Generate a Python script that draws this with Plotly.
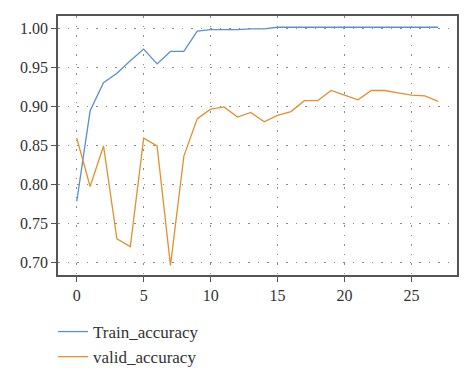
import plotly.graph_objects as go

epochs = list(range(28))
train_accuracy = [0.778, 0.894, 0.930, 0.942, 0.958, 0.973, 0.954, 0.970, 0.970, 0.996,
                  0.998, 0.998, 0.998, 0.999, 0.999, 1.001, 1.001, 1.001, 1.001, 1.001,
                  1.001, 1.001, 1.001, 1.001, 1.001, 1.001, 1.001, 1.001]
valid_accuracy = [0.859, 0.797, 0.849, 0.730, 0.720, 0.859, 0.849, 0.696, 0.836, 0.884,
                  0.896, 0.899, 0.886, 0.892, 0.880, 0.888, 0.893, 0.907, 0.907, 0.920,
                  0.914, 0.908, 0.920, 0.920, 0.917, 0.914, 0.913, 0.906]
x_ticks = [0, 5, 10, 15, 20, 25]
y_ticks = [0.70, 0.75, 0.80, 0.85, 0.90, 0.95, 1.00]

fig = go.Figure()
fig.add_trace(go.Scatter(x=epochs, y=train_accuracy, mode="lines", name="Train_accuracy",
                         line=dict(color="#5a8fd0", width=1.3)))
fig.add_trace(go.Scatter(x=epochs, y=valid_accuracy, mode="lines", name="valid_accuracy",
                         line=dict(color="#e3902f", width=1.3)))

font = dict(family="Liberation Serif, serif", size=16, color="#333333")
axis_common = dict(showline=True, linecolor="#555555", linewidth=1.5, mirror=True,
                   ticks="outside", ticklen=5, tickcolor="#555555", tickwidth=1,
                   showgrid=True, gridcolor="#8a8a8a", gridwidth=1.2, griddash="1.5px,8px",
                   zeroline=False, tickfont=font, automargin=False)

# page body has a default 8px margin, so the figure is sized to fit the window
fig.update_layout(
    width=466, height=369,
    margin=dict(l=50, r=17, t=8, b=102, autoexpand=False),
    plot_bgcolor="white", paper_bgcolor="white",
    font=font,
    xaxis=dict(range=[-1.4, 28.4], tickvals=x_ticks, **axis_common),
    yaxis=dict(range=[0.6837, 1.0154], tickvals=y_ticks, tickformat=".2f", **axis_common),
    showlegend=True,
    legend=dict(xref="container", yref="container", x=0.0966, xanchor="left",
                y=0.1707, yanchor="top", font=dict(family="Liberation Serif, serif", size=17, color="#333333"),
                bgcolor="rgba(0,0,0,0)", tracegroupgap=0, itemwidth=30),
)

fig.write_html("out.html")
